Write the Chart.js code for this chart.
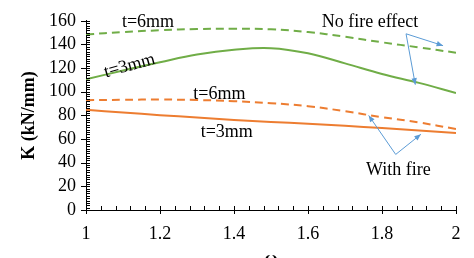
<!DOCTYPE html>
<html>
<head>
<meta charset="utf-8">
<script src="https://cdn.jsdelivr.net/npm/chart.js@4"></script>
<style>
html, body { margin: 0; padding: 0; background: #fff; }
#wrap { width: 474px; height: 258px; }
</style>
</head>
<body>
<div id="wrap"><canvas id="c" width="474" height="258"></canvas></div>
<script>
var omega = [1, 1.1, 1.2, 1.3, 1.4, 1.5, 1.6, 1.7, 1.8, 1.9, 2];
var noFire6 = [148.4, 150.5, 152, 153, 153.3, 152.8, 150.5, 146.5, 141.8, 137.5, 133];
var noFire3 = [110.5, 118, 125, 131.5, 135.5, 136.8, 132.5, 124, 115, 107.5, 99];
var fire6 = [92.9, 93.2, 93.4, 93, 92, 90.3, 87.8, 83.5, 78.5, 74, 68.5];
var fire3 = [84.7, 82.5, 80.2, 78.2, 76.2, 74.5, 73, 71.2, 69.3, 67.2, 65.2];

var GREEN = '#70AD47', ORANGE = '#ED7D31', BLUE = '#5B9BD5';
var FONT = '"Liberation Serif", "Times New Roman", serif';

function pts(ys) {
	return omega.map(function(x, i) { return { x: x, y: ys[i] }; });
}

// minor/major ticks drawn on the axes
var tickPlugin = {
	id: 'ticks',
	afterDraw: function(chart) {
		var ctx = chart.ctx, xs = chart.scales.x, ys = chart.scales.y;
		var a = chart.chartArea;
		ctx.save();
		ctx.strokeStyle = '#000';
		ctx.lineWidth = 1;
		ctx.beginPath();
		for (var i = 0; i <= 25; i++) {
			var px = Math.round(xs.getPixelForValue(1 + i * 0.04)) + 0.5;
			var major = i % 5 === 0;
			ctx.moveTo(px, a.bottom + (major ? 4 : 0));
			ctx.lineTo(px, a.bottom - 4);
		}
		for (var j = 0; j <= 80; j++) {
			var py = Math.round(ys.getPixelForValue(j * 2)) + 0.5;
			var maj = j % 10 === 0;
			ctx.moveTo(a.left - (maj ? 5 : 0), py);
			ctx.lineTo(a.left + 4, py);
		}
		ctx.stroke();
		ctx.restore();
	}
};

function arrow(ctx, x0, y0, x1, y1) {
	ctx.beginPath();
	ctx.moveTo(x0, y0);
	ctx.lineTo(x1, y1);
	ctx.stroke();
	var ang = Math.atan2(y1 - y0, x1 - x0);
	ctx.beginPath();
	ctx.moveTo(x1, y1);
	ctx.lineTo(x1 - 7 * Math.cos(ang - 0.4), y1 - 7 * Math.sin(ang - 0.4));
	ctx.lineTo(x1 - 7 * Math.cos(ang + 0.4), y1 - 7 * Math.sin(ang + 0.4));
	ctx.closePath();
	ctx.fill();
}

// text labels and arrows, placed in data coordinates
var notePlugin = {
	id: 'notes',
	afterDraw: function(chart) {
		var ctx = chart.ctx, xs = chart.scales.x, ys = chart.scales.y;
		function X(v) { return xs.getPixelForValue(v); }
		function Y(v) { return ys.getPixelForValue(v); }
		ctx.save();
		ctx.fillStyle = '#000';
		ctx.font = '18px ' + FONT;
		ctx.textBaseline = 'middle';
		ctx.textAlign = 'left';
		ctx.fillText('t=6mm', X(1.097), Y(159));
		ctx.fillText('t=6mm', X(1.29), Y(98));
		ctx.fillText('t=3mm', X(1.31), Y(66));
		ctx.fillText('No fire effect', X(1.637), Y(159));
		ctx.fillText('With fire', X(1.757), Y(34));
		ctx.save();
		ctx.translate(X(1.05), Y(116));
		ctx.rotate(-0.27);
		ctx.fillText('t=3mm', 0, 0);
		ctx.restore();

		ctx.strokeStyle = BLUE;
		ctx.fillStyle = BLUE;
		ctx.lineWidth = 1;
		arrow(ctx, X(1.865), Y(149), X(1.965), Y(139));
		arrow(ctx, X(1.865), Y(149), X(1.89), Y(106));
		arrow(ctx, X(1.837), Y(47), X(1.905), Y(64));
		arrow(ctx, X(1.837), Y(47), X(1.764), Y(80));
		ctx.restore();
	}
};

new Chart(document.getElementById('c'), {
	type: 'line',
	data: {
		datasets: [
			{ data: pts(noFire6), borderColor: GREEN, borderWidth: 2, borderDash: [8, 5] },
			{ data: pts(noFire3), borderColor: GREEN, borderWidth: 2 },
			{ data: pts(fire6), borderColor: ORANGE, borderWidth: 2, borderDash: [8, 5] },
			{ data: pts(fire3), borderColor: ORANGE, borderWidth: 2 },
		],
	},
	options: {
		responsive: false,
		animation: false,
		events: [],
		elements: {
			point: { radius: 0 },
			line: { tension: 0.4 },
		},
		layout: { padding: { left: 0, right: 18, top: 16, bottom: 0 } },
		plugins: { legend: { display: false }, tooltip: { enabled: false } },
		scales: {
			x: {
				type: 'linear',
				min: 1,
				max: 2,
				grid: { display: false, drawTicks: false },
				border: { display: true, color: '#000', width: 1 },
				ticks: {
					stepSize: 0.2,
					autoSkip: false,
					maxRotation: 0,
					padding: 13,
					color: '#000',
					font: { family: FONT, size: 18 },
					callback: function(v) { return String(Math.round(v * 10) / 10); },
				},
				title: {
					display: true,
					text: 'ω',
					color: '#000',
					font: { family: FONT, size: 18, weight: 'bold' },
					padding: { top: 0, bottom: -12 },
				},
				afterFit: function(s) { s.height = 48; },
			},
			y: {
				min: 0,
				max: 160,
				grid: { display: false, drawTicks: false },
				border: { display: true, color: '#000', width: 1 },
				ticks: {
					stepSize: 20,
					autoSkip: false,
					padding: 10,
					color: '#000',
					font: { family: FONT, size: 18 },
				},
				title: {
					display: true,
					text: 'K (kN/mm)',
					color: '#000',
					font: { family: FONT, size: 18, weight: 'bold' },
					padding: { top: 19, bottom: 0 },
				},
				afterFit: function(s) { s.width = 86; },
			},
		},
	},
	plugins: [tickPlugin, notePlugin],
});
</script>
</body>
</html>
